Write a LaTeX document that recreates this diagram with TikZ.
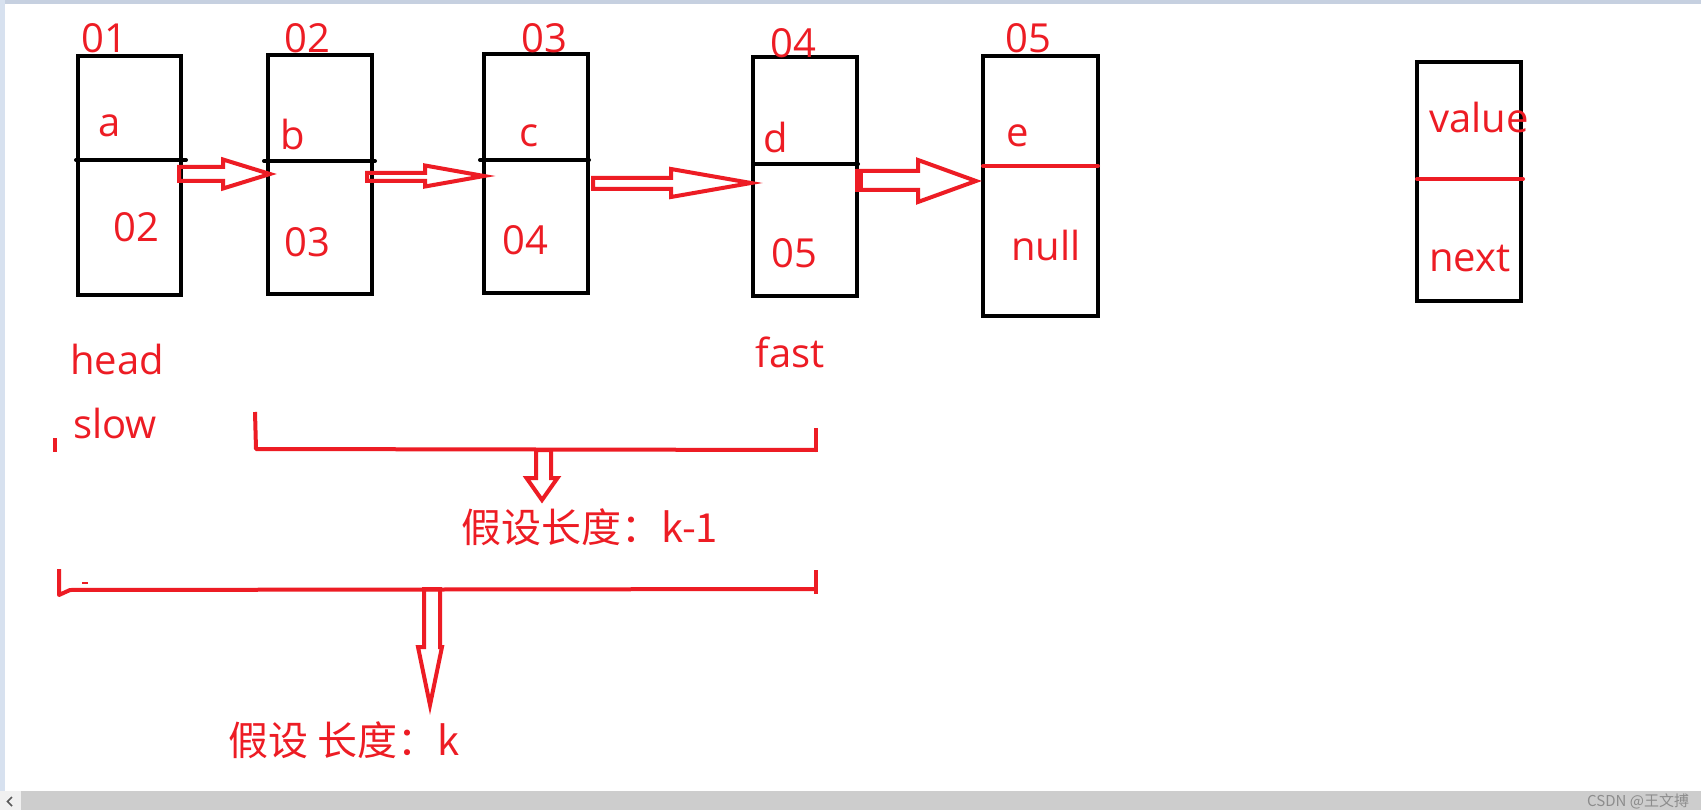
\documentclass[tikz,border=0pt]{standalone}
\usepackage{fontspec}
\setmainfont{Open Sans}
\newfontfamily\cjkfont{Noto Sans CJK SC}
\usetikzlibrary{calc}
\definecolor{pred}{HTML}{ED1C24}
\definecolor{topband}{HTML}{C6D0E0}
\definecolor{leftband}{HTML}{D7E1EF}
\definecolor{barbg}{HTML}{CDCDCD}
\definecolor{barbtn}{HTML}{F0F0F0}
\definecolor{wmgray}{HTML}{8C8C8C}
\tikzset{
  cell/.style={draw=black, line width=4.2pt, rectangle, inner sep=0pt, outer sep=0pt},
  blackdiv/.style={draw=black, line width=4pt, line cap=round},
  reddiv/.style={draw=pred, line width=4pt, line cap=round},
  redline/.style={draw=pred, line width=4pt, line join=miter},
  lbl/.style={text=pred, font=\fontsize{40}{48}\selectfont, inner sep=0pt, anchor=base},
  cjklbl/.style={text=pred, font=\cjkfont\fontsize{40}{48}\selectfont, inner sep=0pt, anchor=base},
}
% hollow block arrow pointing right: start, tip, shaft half width, head half width, head length
\newcommand\harrow[5]{%
  \draw[redline] let \p1=(#1), \p2=(#2) in
    (\x1,\y1+#3) -- (\x2-#5,\y1+#3) -- (\x2-#5,\y2+#4) -- (\x2,\y2) --
    (\x2-#5,\y2-#4) -- (\x2-#5,\y1-#3) -- (\x1,\y1-#3) -- cycle;}
% hollow block arrow pointing down: start, tip, shaft half width, head half width, head length
\newcommand\varrow[5]{%
  \draw[redline] let \p1=(#1), \p2=(#2) in
    (\x1-#3,\y1) -- (\x1-#3,\y2+#5) -- (\x2-#4,\y2+#5) -- (\x2,\y2) --
    (\x2+#4,\y2+#5) -- (\x1+#3,\y2+#5) -- (\x1+#3,\y1) -- cycle;}
\begin{document}
\begin{tikzpicture}[x=1pt,y=-1pt]
\path[use as bounding box] (0,0) rectangle (1701,810);
% window background
\fill[white] (0,0) rectangle (1701,810);
\fill[topband] (0,0) rectangle (1701,4);
\fill[leftband] (0,0) rectangle (5,791);
\fill[barbg] (0,791) rectangle (1701,810);
\fill[barbtn] (0,791) rectangle (21,810);
\draw[black!65, line width=1.6pt] (12,797) -- (7.5,801.5) -- (12,806);
\node[font=\cjkfont\fontsize{15}{18}\selectfont, text=wmgray, anchor=base west, inner sep=0pt] (wm) at (1587,806) {CSDN @王文搏};

% list cells
\node[cell, minimum width=103pt, minimum height=239pt] (b1) at (129.5,175.5) {};
\node[cell, minimum width=104pt, minimum height=239pt] (b2) at (320,174.5) {};
\node[cell, minimum width=104pt, minimum height=239pt] (b3) at (536,173.5) {};
\node[cell, minimum width=104pt, minimum height=239pt] (b4) at (805,176.5) {};
\node[cell, minimum width=115pt, minimum height=260pt] (b5) at (1040.5,186) {};
\node[cell, minimum width=104pt, minimum height=239pt] (b6) at (1469,181.5) {};

% dividers
\draw[blackdiv] (76,160) -- (186,160);
\draw[blackdiv] (264,161) -- (375,161);
\draw[blackdiv] (480,160) -- (589,160);
\draw[blackdiv] (753,164) -- (858,164);
\draw[reddiv] (983,166) -- (1098,166);
\draw[reddiv] (1417,179) -- (1523,179);

% addresses
\node[lbl] (l01) at (104,53) {01};
\node[lbl] (l02) at (307,53) {02};
\node[lbl] (l03) at (544,53) {03};
\node[lbl] (l04) at (793,58) {04};
\node[lbl] (l05) at (1028,53) {05};

% values
\node[lbl] (va) at (110,137) {a};
\node[lbl] (vb) at (293,150) {b};
\node[lbl] (vc) at (529,147) {c};
\node[lbl] (vd) at (776,153) {d};
\node[lbl] (ve) at (1018,147) {e};
\node[lbl] (vval) at (1479,133) {value};

% next fields
\node[lbl] (n1) at (136,242) {02};
\node[lbl] (n2) at (307,257) {03};
\node[lbl] (n3) at (525,255) {04};
\node[lbl] (n4) at (794,268) {05};
\node[lbl] (n5) at (1046,261) {null};
\node[lbl] (nnext) at (1470,272) {next};

% pointers
\node[lbl] (head) at (117,375) {head};
\node[lbl] (slow) at (115,438) {slow};
\node[lbl] (fast) at (790,367) {fast};

% arrows between cells
\coordinate (a1s) at ($(b1.east)+(-2,-1.5)$);
\coordinate (a1t) at ($(b2.west)+(2,-0.5)$);
\harrow{a1s}{a1t}{7pt}{14.5pt}{47pt}
\coordinate (a2s) at ($(b2.east)+(-5,2.5)$);
\coordinate (a2t) at ($(b3.west)+(0,2.5)$);
\harrow{a2s}{a2t}{4pt}{10.5pt}{59pt}
\coordinate (a3s) at ($(b3.east)+(5,10)$);
\coordinate (a3t) at ($(b4.west)+(-2,6.5)$);
\harrow{a3s}{a3t}{5.5pt}{14pt}{80pt}
\coordinate (a4s) at ($(b4.east)+(1,4)$);
\coordinate (a4t) at ($(b5.west)+(-7,-5)$);
\harrow{a4s}{a4t}{9.5pt}{21pt}{58pt}
\fill[pred] ($(a4s)+(-3,-11.5)$) rectangle ($(a4s)+(5,11.5)$);

% tick near slow
\draw[redline] (55,438) -- (55,452);

% upper bracket
\draw[redline, line join=round] (255,412) -- (256,449) -- (816,450);
\draw[redline] (816,428) -- (816,452);
\coordinate (k1s) at (543.5,450);
\coordinate (k1t) at (542,500);
\varrow{k1s}{k1t}{7.5pt}{15.5pt}{22pt}
\node[cjklbl] (t1) at (590,542) {假设长度：k-1};

% lower bracket
\draw[redline, line join=round] (59,569) -- (59,595) -- (70,590) -- (816,589);
\draw[redline] (816,570) -- (816,594);
\draw[pred, line width=2pt] (82,583) -- (88,583);
\coordinate (k2s) at (432,589);
\coordinate (k2t) at (430,705);
\varrow{k2s}{k2t}{8pt}{12pt}{58pt}
\node[cjklbl] (t2) at (344.5,755) {假设 长度：k};
\end{tikzpicture}
\end{document}
